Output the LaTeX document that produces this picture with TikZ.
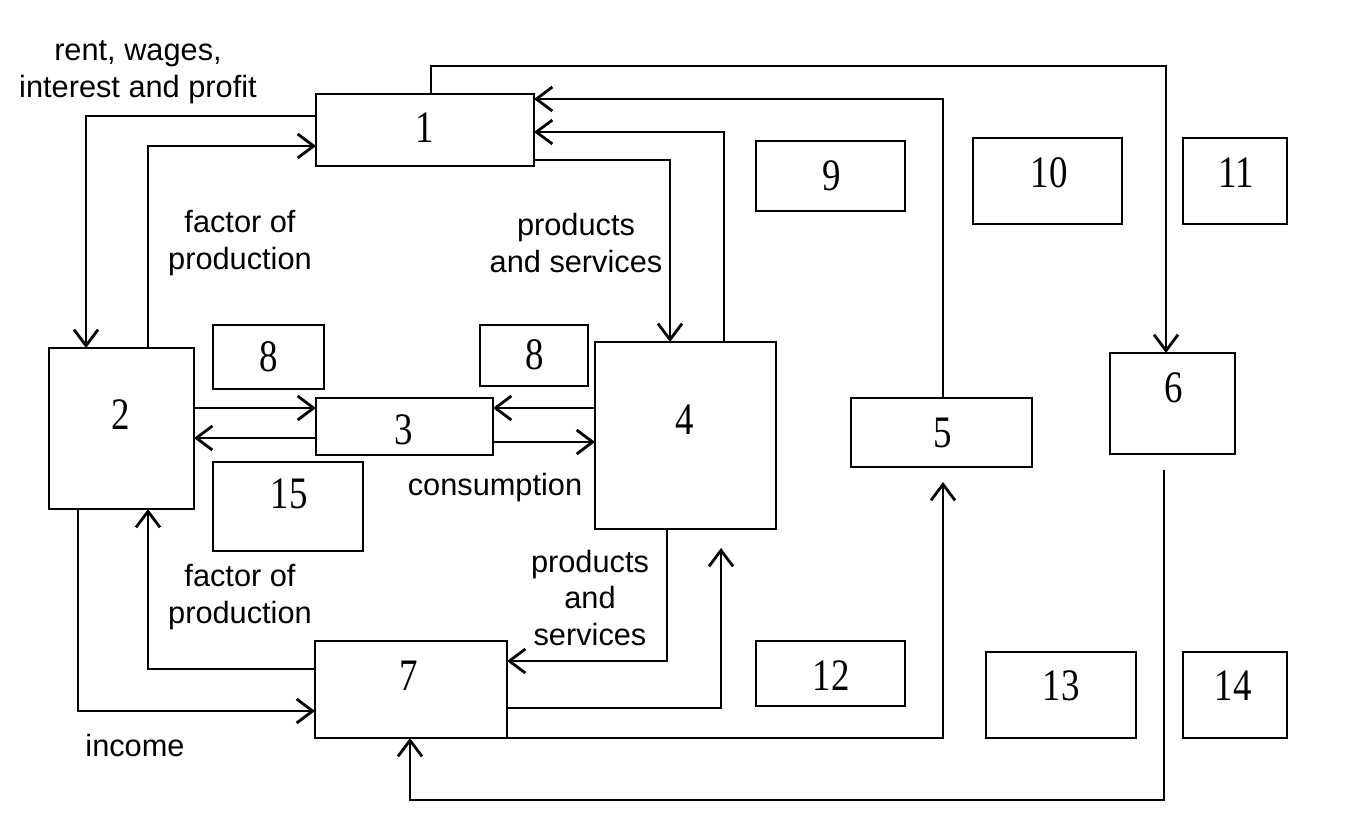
\documentclass[tikz,border=0pt]{standalone}
\usepackage{fontspec}
\setmainfont{Liberation Sans}
\newfontfamily\numfont{Liberation Serif}
\usetikzlibrary{arrows.meta,fit}
\tikzset{
  box/.style={draw, line width=1.6pt, inner sep=0pt, outer sep=0pt},
  num/.style={font=\numfont\fontsize{21}{21}\selectfont, inner sep=0pt},
  lbl/.style={font=\fontsize{17.5}{21}\selectfont, align=center, inner sep=1pt},
  conn/.style={line width=1.6pt},
  arr/.style={conn, -{Straight Barb[length=3.2mm,width=4.8mm,line width=1.6pt]}}
}
\newcommand{\bx}[8]{%
  \node[box, fit={(#2,#3)(#4,#5)}] (#1) {};
  \node[num] (#1t) at (#7,#8) {\scalebox{1}[1.22]{#6}};}
\begin{document}
\begin{tikzpicture}[x=0.02cm,y=-0.02cm]
\useasboundingbox (0,0) rectangle (1356,838);
% boxes
\bx{b1}{316}{94}{534}{166}{1}{425}{128}
\bx{b2}{49}{348}{194}{509}{2}{121}{415}
\bx{b8a}{213}{325}{324}{389}{8}{269}{357}
\bx{b8b}{480}{325}{588}{386}{8}{535}{355}
\bx{b3}{316}{398}{493}{455}{3}{404}{430}
\bx{b4}{595}{342}{776}{529}{4}{685}{420}
\bx{b15}{213}{462}{363}{551}{15}{289}{494}
\bx{b5}{851}{398}{1032}{467}{5}{943}{433}
\bx{b6}{1110}{353}{1235}{454}{6}{1174}{388}
\bx{b9}{756}{141}{905}{211}{9}{832}{176}
\bx{b10}{973}{138}{1122}{224}{10}{1049}{173}
\bx{b11}{1183}{138}{1287}{224}{11}{1236}{173}
\bx{b7}{315}{641}{507}{738}{7}{409}{676}
\bx{b12}{756}{641}{905}{706}{12}{831}{676}
\bx{b13}{986}{652}{1136}{738}{13}{1061}{686}
\bx{b14}{1183}{652}{1287}{738}{14}{1233}{686}
% free ends
\coordinate (t4) at (721,548);
\coordinate (t5) at (943,482);
\coordinate (s6) at (1164,470);
% connectors
\draw[arr] (b1.west |- 0,116) -| (86,0 |- b2.north);
\draw[arr] (148,0 |- b2.north) |- (b1.west |- 0,146);
\draw[arr] (431,0 |- b1.north) -- (431,66) -| (1166,0 |- b6.north);
\draw[arr] (943,0 |- b5.north) |- (b1.east |- 0,99);
\draw[arr] (724,0 |- b4.north) |- (b1.east |- 0,132);
\draw[arr] (b1.east |- 0,160) -| (670,0 |- b4.north);
\draw[arr] (b2.east |- 0,408) -- (b3.west |- 0,408);
\draw[arr] (b3.west |- 0,438) -- (b2.east |- 0,438);
\draw[arr] (b4.west |- 0,408) -- (b3.east |- 0,408);
\draw[arr] (b3.east |- 0,442) -- (b4.west |- 0,442);
\draw[arr] (78,0 |- b2.south) |- (b7.west |- 0,711);
\draw[arr] (b7.west |- 0,669) -| (148,0 |- b2.south);
\draw[arr] (667,0 |- b4.south) |- (b7.east |- 0,661);
\draw[arr] (b7.east |- 0,708) -| (t4);
\draw[arr] (b7.south east) -| (t5);
\draw[arr] (s6) |- (410,800) -- (410,0 |- b7.south);
% labels
\node[lbl] (l1) at (138,72) {rent, wages,\\interest and profit};
\node[lbl, fill=white] (l2) at (240,243) {factor of\\production};
\node[lbl, fill=white] (l3) at (576,243) {products\\and services};
\node[lbl] (l4) at (495,488) {consumption};
\node[lbl, fill=white] (l5) at (590,598) {products\\and\\services};
\node[lbl] (l6) at (240,597) {factor of\\production};
\node[lbl] (l7) at (135,746) {income};
\end{tikzpicture}
\end{document}
